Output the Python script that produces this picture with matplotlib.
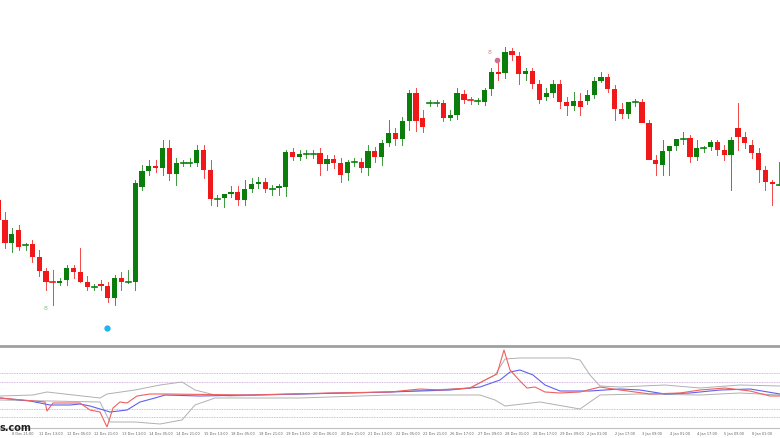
import matplotlib.pyplot as plt
from matplotlib.lines import Line2D

# candle bodies, chart-pixel units (smaller = higher price)
opens = [200, 220, 243, 230, 245, 244, 257, 271, 282, 283, 280, 268, 272, 282, 287, 284,
         286, 298, 278, 282, 282, 187, 171, 166, 168, 148, 174, 163, 163, 163, 150, 170,
         199, 198, 194, 192, 200, 189, 184, 182, 189, 188, 187, 152, 157, 154, 154, 153,
         164, 159, 163, 173, 162, 162, 168, 151, 157, 143, 133, 139, 121, 93, 118, 103,
         103, 103, 118, 115, 94, 100, 101, 102, 89, 72, 73, 51, 56, 74, 71, 84,
         97, 93, 84, 102, 106, 101, 101, 95, 81, 77, 89, 109, 114, 102, 102, 123,
         160, 165, 151, 146, 139, 138, 157, 148, 147, 142, 150, 155, 128, 137, 145, 153,
         170, 182, 185]
closes = [220, 243, 234, 247, 244, 257, 271, 282, 283, 281, 268, 272, 282, 287, 286, 286,
          298, 278, 282, 281, 183, 171, 166, 168, 148, 174, 163, 163, 163, 150, 170, 199,
          198, 194, 192, 200, 189, 184, 182, 189, 188, 186, 152, 157, 154, 154, 153, 164,
          159, 163, 175, 162, 162, 168, 151, 157, 143, 133, 139, 121, 93, 121, 127, 103,
          103, 118, 115, 93, 100, 101, 101, 90, 72, 74, 52, 55, 74, 71, 84, 100,
          93, 84, 102, 106, 101, 107, 95, 81, 77, 89, 109, 114, 102, 102, 123, 160,
          164, 151, 146, 139, 139, 157, 148, 147, 142, 150, 155, 140, 137, 143, 153, 170,
          182, 184, 184]
highs = [170, 212, 228, 225, 243, 240, 250, 268, 270, 278, 265, 265, 248, 276, 284, 280,
         282, 275, 272, 270, 180, 165, 160, 160, 140, 140, 158, 160, 158, 145, 145, 160,
         195, 194, 186, 186, 180, 178, 177, 178, 185, 184, 150, 148, 150, 150, 150, 148,
         155, 155, 158, 160, 158, 158, 145, 147, 140, 120, 128, 117, 90, 88, 110, 100,
         100, 100, 110, 88, 90, 97, 98, 88, 68, 58, 47, 48, 52, 68, 68, 80,
         88, 80, 80, 97, 92, 93, 90, 77, 72, 74, 85, 103, 105, 99, 99, 120,
         155, 140, 148, 140, 132, 135, 140, 146, 140, 140, 145, 137, 103, 132, 140, 148,
         166, 180, 162]
lows = [225, 248, 252, 250, 250, 262, 276, 290, 305, 285, 285, 278, 282, 290, 290, 290,
        302, 305, 290, 283, 290, 190, 175, 172, 175, 180, 185, 166, 166, 166, 178, 205,
        206, 207, 197, 205, 205, 192, 188, 192, 195, 195, 196, 160, 160, 158, 158, 175,
        170, 168, 182, 180, 166, 172, 175, 162, 165, 146, 145, 145, 130, 131, 132, 106,
        106, 121, 120, 119, 103, 104, 104, 105, 95, 80, 78, 60, 84, 80, 88, 103,
        100, 97, 108, 115, 110, 115, 104, 98, 82, 92, 120, 118, 118, 106, 106, 128,
        175, 175, 175, 150, 144, 162, 160, 152, 150, 155, 160, 190, 150, 148, 158, 182,
        190, 205, 185]

# indicator lines: (x pixel, y pixel) samples
red_x = [0, 45, 47, 53, 80, 90, 100, 107, 113, 120, 127, 137, 150, 165, 250, 330, 390,
         420, 440, 470, 485, 497, 504, 510, 520, 527, 535, 545, 560, 580, 600, 620, 650,
         680, 700, 725, 750, 770, 780]
red_y = [398, 402, 411, 403, 403, 410, 412, 427, 408, 402, 403, 396, 394, 394, 395, 393, 392,
         389, 390, 388, 380, 374, 350, 370, 381, 388, 387, 392, 393, 392, 387, 390, 394,
         393, 390, 388, 391, 396, 396]
blue_x = [0, 30, 50, 70, 80, 90, 110, 127, 140, 155, 165, 200, 300, 390, 450, 480, 500,
          510, 520, 533, 545, 560, 590, 620, 640, 665, 690, 720, 750, 780]
blue_y = [398, 401, 405, 405, 404, 406, 412, 410, 402, 398, 395, 396, 394, 392, 390, 387, 380,
          372, 370, 375, 385, 391, 391, 389, 390, 394, 393, 390, 389, 394]
up_x = [0, 33, 47, 100, 107, 135, 160, 182, 195, 215, 230, 300, 390, 470, 495, 505, 520,
        570, 580, 590, 600, 620, 665, 700, 740, 780]
up_y = [396, 395, 392, 398, 394, 390, 385, 382, 390, 395, 396, 394, 392, 388, 375, 359, 358,
        358, 360, 375, 386, 387, 385, 388, 385, 386]
lo_x = [0, 100, 110, 135, 160, 182, 195, 215, 300, 390, 480, 495, 505, 540, 580, 590, 600,
        640, 700, 740, 780]
lo_y = [400, 402, 422, 422, 424, 420, 405, 398, 398, 395, 395, 400, 406, 402, 409, 402, 395,
        394, 395, 393, 395]
levels = [373, 382, 409, 417]

tick_labels = ["8 Dec 21:00", "11 Dec 13:00", "12 Dec 05:00", "12 Dec 21:00", "13 Dec 13:00",
               "14 Dec 05:00", "14 Dec 21:00", "15 Dec 13:00", "18 Dec 05:00", "18 Dec 21:00",
               "19 Dec 13:00", "20 Dec 05:00", "20 Dec 21:00", "21 Dec 13:00", "22 Dec 05:00",
               "22 Dec 21:00", "26 Dec 17:00", "27 Dec 09:00", "28 Dec 01:00", "28 Dec 17:00",
               "29 Dec 09:00", "2 Jan 01:00", "2 Jan 17:00", "3 Jan 09:00", "4 Jan 01:00",
               "4 Jan 17:00", "5 Jan 09:00", "8 Jan 01:00"]

GREEN = "#0a7d0a"
RED = "#f01818"
W, H = 780, 438

fig = plt.figure(figsize=(7.8, 4.38), dpi=100)
ax = fig.add_axes([0, 1 - 340 / H, 1, 340 / H])
ax.set_xlim(0, W)
ax.set_ylim(340, 0)
ax.axis("off")

step = 6.85
xs = [5 + step * (i - 1) for i in range(len(opens))]
for x, o, c, h, l in zip(xs, opens, closes, highs, lows):
    col = GREEN if c <= o else RED
    ax.plot([x, x], [h, l], color=col, lw=0.7, alpha=0.8)
    top, bot = min(o, c), max(o, c)
    if bot - top < 1.5:
        ax.plot([x - 2.5, x + 2.5], [o, o], color=col, lw=1.2)
    else:
        ax.add_patch(plt.Rectangle((x - 2.6, top), 5.2, bot - top, color=col, lw=0))

ax.text(490, 52, "8", color="#e08080", fontsize=4.5, ha="center", va="center")
ax.plot(497, 60, "o", color="#d07090", ms=3)
ax.text(46, 309, "8", color="#80c080", fontsize=4.5, ha="center", va="center")
ax.plot(107, 328, "o", color="#1eb4f0", ms=3.5)

fig.add_artist(Line2D([0, 1], [1 - 346 / H] * 2, color="#a0a0a0", lw=2))

ix = fig.add_axes([0, 1 - 427 / H, 1, (427 - 348) / H])
ix.set_xlim(0, W)
ix.set_ylim(427, 348)
for lv in levels:
    ix.axhline(lv, color="#c8a0d8", lw=0.6, ls=(0, (1, 1)))
ix.plot(up_x, up_y, color="#b0b0b0", lw=0.7)
ix.plot(lo_x, lo_y, color="#b0b0b0", lw=0.7)
ix.plot(blue_x, blue_y, color="#6060f0", lw=0.8)
ix.plot(red_x, red_y, color="#f06060", lw=0.8)
ix.axis("off")

fig.add_artist(Line2D([0, 1], [1 - 428 / H] * 2, color="#c0c0c0", lw=0.8))
for i, lab in enumerate(tick_labels):
    fig.text((12 + 27.4 * i) / W, 1 - 434 / H, lab, fontsize=2.5, color="#606060",
             ha="left", va="center")
fig.text(0, 1 - 428 / H, "s.com", fontsize=7, fontweight="bold", color="#222222",
         ha="left", va="center")

fig.savefig("out.png", dpi=100)
